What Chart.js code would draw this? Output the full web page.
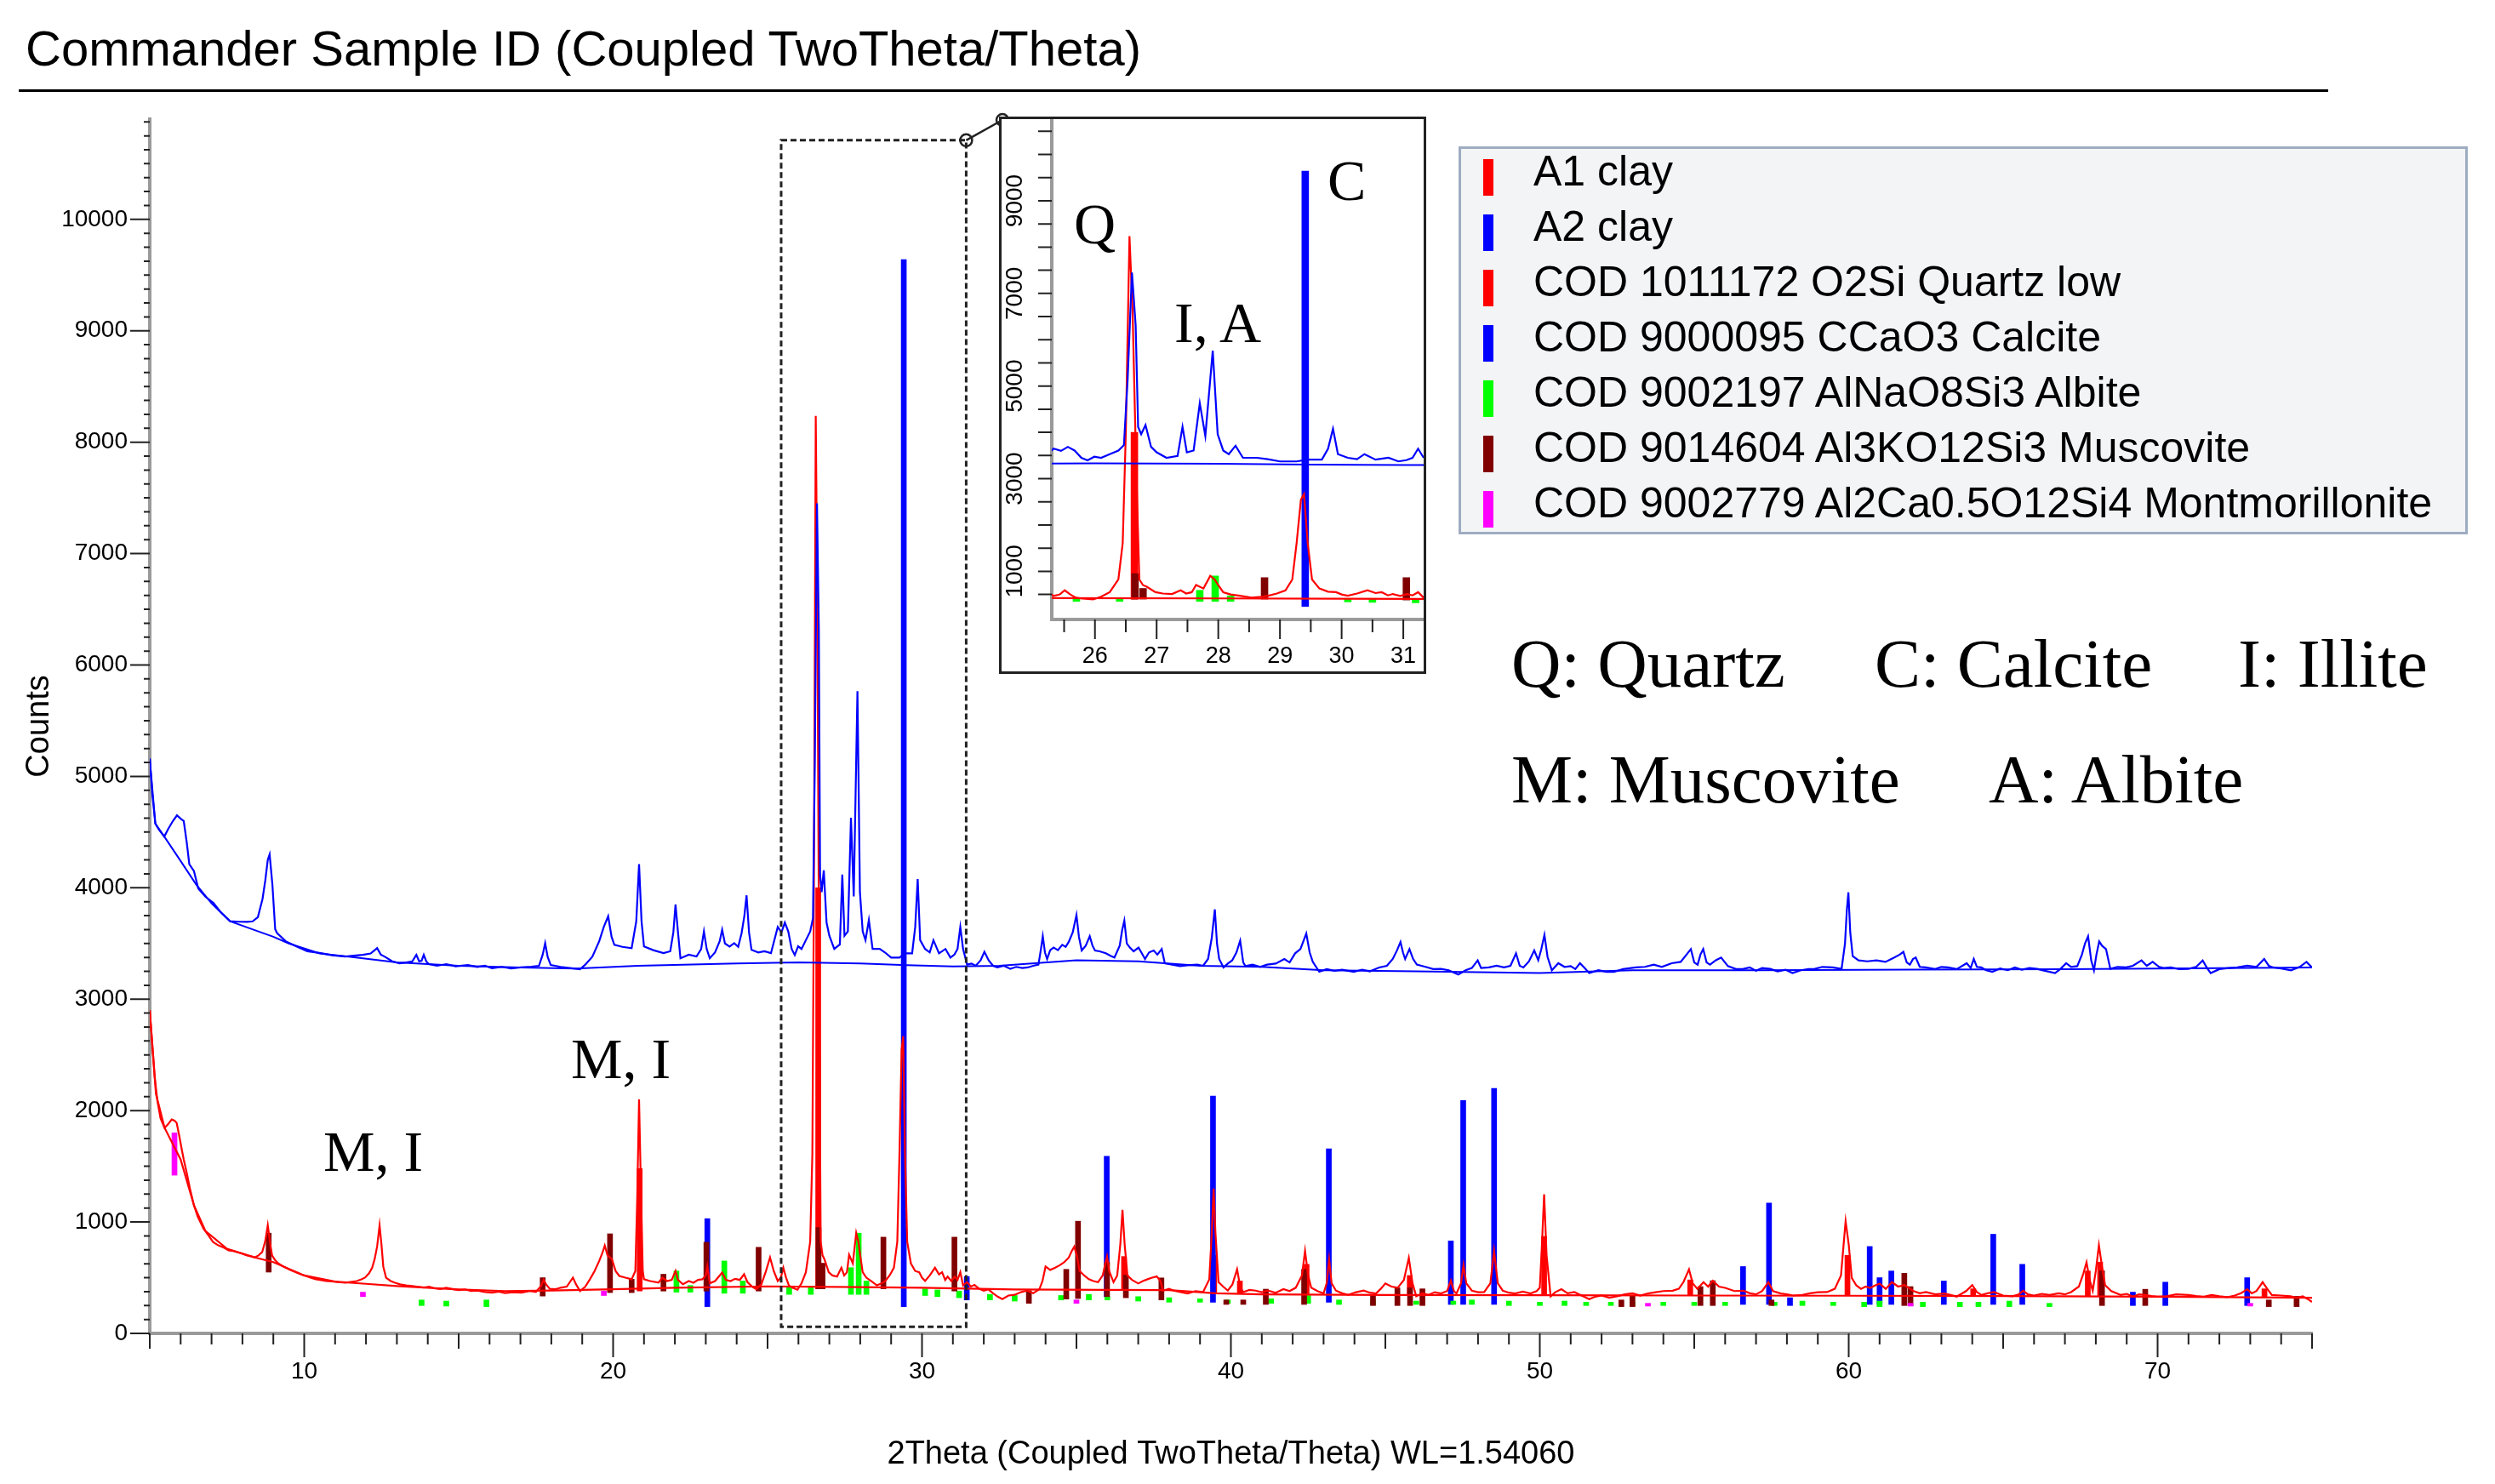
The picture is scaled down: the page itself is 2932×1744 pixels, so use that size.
<!DOCTYPE html>
<html>
<head>
<meta charset="utf-8">
<title>Commander Sample ID (Coupled TwoTheta/Theta)</title>
<script src="https://cdn.jsdelivr.net/npm/chart.js@4.4.1/dist/chart.umd.min.js"></script>
<style>
  html, body { margin: 0; padding: 0; background: #fff; }
  #page { position: relative; width: 2932px; height: 1744px; overflow: hidden; font-family: "Liberation Sans", Arial, sans-serif; color: #000; }
  #mainChart { position: absolute; left: 0; top: 0; }
  .title { position: absolute; left: 30px; top: 28px; font-size: 58px; line-height: 58px; white-space: nowrap; }
  .rule { position: absolute; left: 22px; top: 105px; width: 2714px; height: 3px; background: #000; }
  .inset { position: absolute; left: 1174px; top: 137px; width: 502px; height: 655px; border: 3px solid #222; box-sizing: border-box; background: #fff; }
  .inset canvas { position: absolute; left: 0; top: 0; }
  .legend { position: absolute; left: 1714px; top: 172px; width: 1186px; height: 456px; box-sizing: border-box; background: #f3f4f6; border: 3px solid #9eacc2; }
  .mark { position: absolute; left: 26px; width: 12px; height: 43px; }
  .ltext { position: absolute; left: 85px; font-size: 50px; line-height: 50px; white-space: nowrap; }
  .note { position: absolute; font-family: "Liberation Serif", "Times New Roman", serif; white-space: nowrap; line-height: 1; }
  .big { font-size: 81px; }
  .small { font-size: 68px; }
</style>
</head>
<body>
<div id="page">
  <canvas id="mainChart" width="2932" height="1744"></canvas>
  <div class="title">Commander Sample ID (Coupled TwoTheta/Theta)</div>
  <div class="rule"></div>

  <div class="inset"><canvas id="insetChart" width="496" height="649"></canvas></div>

  <div class="legend">
    <div class="mark" style="top:12px;background:#ff0000"></div><div class="ltext" style="top:1px">A1 clay</div>
    <div class="mark" style="top:77px;background:#0000ff"></div><div class="ltext" style="top:66px">A2 clay</div>
    <div class="mark" style="top:142px;background:#ff0000"></div><div class="ltext" style="top:131px">COD 1011172 O2Si Quartz low</div>
    <div class="mark" style="top:207px;background:#0000ff"></div><div class="ltext" style="top:196px">COD 9000095 CCaO3 Calcite</div>
    <div class="mark" style="top:272px;background:#00ff00"></div><div class="ltext" style="top:261px">COD 9002197 AlNaO8Si3 Albite</div>
    <div class="mark" style="top:337px;background:#800000"></div><div class="ltext" style="top:326px">COD 9014604 Al3KO12Si3 Muscovite</div>
    <div class="mark" style="top:402px;background:#ff00ff"></div><div class="ltext" style="top:391px">COD 9002779 Al2Ca0.5O12Si4 Montmorillonite</div>
  </div>

  <div class="note big" style="left:1776px;top:740px">Q: Quartz</div>
  <div class="note big" style="left:2203px;top:740px">C: Calcite</div>
  <div class="note big" style="left:2630px;top:740px">I: Illite</div>
  <div class="note big" style="left:1776px;top:876px">M: Muscovite</div>
  <div class="note big" style="left:2337px;top:876px">A: Albite</div>
  <div class="note small" style="left:380px;top:1319px">M, I</div>
  <div class="note small" style="left:671px;top:1210px">M, I</div>
  <div class="note small" style="left:1262px;top:229px">Q</div>
  <div class="note small" style="left:1380px;top:345px">I, A</div>
  <div class="note small" style="left:1560px;top:178px">C</div>
</div>

<script>
// measured scans, [2theta, counts]
const a1Clay = [
  [5.00,2900],[5.08,2600],[5.16,2300],[5.25,2080],[5.35,1930],[5.48,1845],[5.6,1880],[5.71,1920],[5.8,1910],[5.87,1890],
  [5.95,1780],[6.03,1660],[6.1,1560],[6.19,1450],[6.3,1300],[6.43,1150],[6.55,1050],[6.74,940],[6.9,880],[7.05,820],
  [7.22,790],[7.4,770],[7.55,745],[7.7,740],[7.85,728],[8.0,715],[8.15,700],[8.3,690],[8.4,682],[8.52,700],
  [8.64,730],[8.74,830],[8.82,970],[8.9,800],[8.96,700],[9.05,660],[9.15,630],[9.28,607],[9.4,590],[9.55,570],
  [9.75,547],[9.9,530],[10.05,515],[10.2,500],[10.38,486],[10.55,478],[10.7,470],[10.9,466],[11.1,460],[11.33,456],
  [11.5,462],[11.7,470],[11.85,485],[11.97,501],[12.1,540],[12.2,590],[12.28,667],[12.36,780],[12.44,970],[12.5,800],
  [12.56,600],[12.65,500],[12.8,470],[12.92,456],[13.1,440],[13.3,430],[13.5,425],[13.7,418],[13.87,411],[14.05,420],
  [14.2,405],[14.4,398],[14.6,410],[14.82,396],[15.0,388],[15.2,395],[15.4,380],[15.6,385],[15.85,372],[16.08,366],
  [16.3,375],[16.5,362],[16.75,370],[17.03,366],[17.3,380],[17.5,372],[17.67,426],[17.75,480],[17.83,440],[17.95,400],
  [18.14,396],[18.3,410],[18.5,420],[18.7,501],[18.8,440],[18.93,380],[19.1,420],[19.25,486],[19.4,560],[19.55,650],
  [19.65,720],[19.73,788],[19.82,700],[19.96,667],[20.08,560],[20.2,516],[20.4,500],[20.6,486],[20.72,560],[20.78,1200],
  [20.84,2100],[20.9,1300],[20.96,560],[21.0,486],[21.2,470],[21.47,456],[21.6,500],[21.75,470],[21.9,480],[22.02,561],
  [22.1,480],[22.26,441],[22.45,470],[22.6,455],[22.75,480],[22.89,486],[23.0,520],[23.05,600],[23.13,450],[23.3,470],
  [23.53,546],[23.65,480],[23.8,470],[23.95,490],[24.1,480],[24.24,531],[24.35,460],[24.5,420],[24.64,396],[24.8,440],
  [24.95,560],[25.08,682],[25.2,560],[25.33,470],[25.43,500],[25.51,589],[25.6,500],[25.69,431],[25.8,410],[25.97,392],
  [26.1,450],[26.24,549],[26.38,824],[26.45,1608],[26.5,3961],[26.56,8236],[26.61,6628],[26.67,3177],[26.72,824],[26.78,700],
  [26.84,667],[26.98,549],[27.1,520],[27.25,510],[27.39,589],[27.48,520],[27.57,549],[27.64,706],[27.76,628],[27.87,902],
  [27.94,824],[28.0,700],[28.08,549],[28.2,500],[28.35,471],[28.54,431],[28.7,450],[28.81,471],[28.95,520],[29.09,589],
  [29.2,824],[29.27,1608],[29.34,2549],[29.39,2667],[29.45,1608],[29.52,824],[29.64,628],[29.78,560],[29.91,549],[30.0,500],
  [30.1,471],[30.25,520],[30.42,589],[30.55,530],[30.65,549],[30.75,480],[30.83,510],[30.95,470],[31.06,510],[31.15,480],
  [31.24,549],[31.33,430],[31.46,460],[31.58,420],[31.7,435],[31.85,400],[32.0,384],[32.15,395],[32.3,360],[32.45,330],
  [32.6,308],[32.8,340],[33.0,346],[33.2,370],[33.4,384],[33.6,360],[33.8,397],[33.9,470],[34.0,600],[34.15,570],
  [34.3,588],[34.45,610],[34.6,638],[34.75,680],[34.85,740],[34.93,778],[35.02,690],[35.1,562],[35.25,520],[35.4,486],
  [35.55,470],[35.7,460],[35.85,520],[35.93,620],[35.99,689],[36.06,560],[36.2,460],[36.32,520],[36.42,800],[36.49,1109],
  [36.56,800],[36.65,520],[36.8,480],[37.0,448],[37.15,470],[37.3,486],[37.45,500],[37.6,511],[37.72,470],[37.8,384],
  [38.0,400],[38.15,384],[38.4,370],[38.6,358],[38.85,380],[39.1,371],[39.3,486],[39.38,900],[39.44,1300],[39.5,900],
  [39.6,460],[39.75,420],[39.9,384],[40.05,440],[40.2,575],[40.3,420],[40.4,371],[40.6,390],[40.8,384],[41.0,370],
  [41.2,384],[41.45,365],[41.7,397],[41.9,380],[42.1,410],[42.3,520],[42.4,740],[42.5,520],[42.6,410],[42.8,380],
  [43.0,358],[43.1,450],[43.18,664],[43.26,450],[43.4,384],[43.6,360],[43.8,346],[44.05,370],[44.3,384],[44.5,365],
  [44.7,358],[44.85,400],[45.0,448],[45.2,420],[45.4,410],[45.6,480],[45.76,677],[45.88,450],[46.0,333],[46.2,360],
  [46.4,346],[46.6,370],[46.8,358],[47.0,380],[47.12,473],[47.22,380],[47.3,358],[47.45,450],[47.53,613],[47.62,450],
  [47.8,384],[48.0,370],[48.2,371],[48.4,450],[48.52,740],[48.64,450],[48.8,384],[49.0,365],[49.2,358],[49.45,375],
  [49.7,358],[49.9,380],[50.0,410],[50.07,800],[50.14,1249],[50.22,700],[50.35,333],[50.5,370],[50.7,397],[50.9,360],
  [51.12,371],[51.35,340],[51.6,307],[51.8,330],[52.0,340],[52.25,320],[52.5,333],[52.75,350],[53.0,360],[53.25,340],
  [53.5,358],[53.75,370],[54.0,380],[54.3,383],[54.5,400],[54.65,460],[54.83,574],[54.95,450],[55.1,400],[55.3,460],
  [55.45,420],[55.6,473],[55.8,420],[56.0,409],[56.3,380],[56.6,383],[56.8,360],[57.0,350],[57.2,380],[57.4,460],
  [57.55,380],[57.8,358],[58.0,350],[58.2,340],[58.5,345],[58.75,360],[59.0,370],[59.3,371],[59.55,400],[59.75,520],
  [59.9,1007],[60.0,800],[60.1,498],[60.25,430],[60.4,400],[60.55,420],[60.7,409],[60.85,430],[61.0,447],[61.2,400],
  [61.4,460],[61.6,420],[61.8,434],[62.1,380],[62.3,360],[62.5,371],[62.8,350],[63.1,358],[63.3,345],[63.5,330],
  [63.8,380],[64.0,434],[64.15,370],[64.3,345],[64.5,360],[64.7,371],[65.0,340],[65.3,333],[65.5,350],[65.65,383],
  [65.8,350],[66.0,340],[66.25,355],[66.5,345],[66.8,360],[67.0,350],[67.2,371],[67.45,420],[67.6,540],[67.7,638],
  [67.8,480],[67.9,383],[68.0,560],[68.1,791],[68.2,600],[68.3,434],[68.5,380],[68.8,345],[69.0,355],[69.2,330],
  [69.4,350],[69.6,345],[69.8,335],[70.0,330],[70.3,333],[70.6,350],[71.0,345],[71.25,335],[71.5,330],[71.75,345],
  [72.0,333],[72.25,325],[72.5,340],[72.7,360],[72.9,396],[73.05,360],[73.2,380],[73.3,420],[73.4,460],[73.55,400],
  [73.7,345],[74.0,340],[74.3,333],[74.5,320],[74.7,333],[74.85,310],[75.0,282]
];

const a1Background = [
  [5.0,2900],[5.2,2150],[5.48,1845],[6.0,1560],[6.43,1150],[6.8,920],[7.5,760],[8.4,682],[9.0,640],[10.0,520],
  [11.0,465],[12.0,445],[13.0,425],[14.0,410],[15.0,395],[16.5,380],[18.0,385],[20.0,396],[22.0,410],[25.0,422],
  [28.0,415],[30.0,409],[33.0,395],[36.0,390],[38.0,388],[39.5,360],[41.0,350],[45.0,345],[50.0,343],[55.0,340],
  [60.0,338],[65.0,335],[70.0,330],[75.0,320]
];

const a2Clay = [
  [5.0,5160],[5.08,4850],[5.18,4577],[5.3,4520],[5.47,4460],[5.6,4530],[5.75,4600],[5.88,4650],[6.0,4620],[6.1,4600],
  [6.2,4400],[6.28,4212],[6.43,4150],[6.57,3993],[6.8,3920],[7.06,3865],[7.3,3780],[7.6,3700],[7.9,3695],[8.15,3694],
  [8.33,3699],[8.5,3737],[8.65,3900],[8.74,4066],[8.82,4250],[8.88,4300],[8.97,4029],[9.06,3628],[9.12,3594],[9.4,3520],
  [9.75,3473],[10.1,3430],[10.54,3413],[10.9,3395],[11.33,3383],[11.6,3390],[11.9,3398],[12.15,3410],[12.36,3458],[12.48,3400],
  [12.6,3383],[12.85,3340],[13.08,3322],[13.3,3330],[13.5,3340],[13.63,3398],[13.72,3340],[13.8,3345],[13.87,3398],[13.95,3340],
  [14.03,3316],[14.3,3300],[14.6,3315],[14.9,3295],[15.3,3307],[15.6,3290],[15.85,3300],[16.08,3277],[16.4,3290],[16.7,3275],
  [17.0,3285],[17.35,3292],[17.6,3300],[17.72,3400],[17.8,3503],[17.88,3380],[17.98,3307],[18.3,3290],[18.6,3280],[18.93,3268],
  [19.1,3310],[19.33,3383],[19.55,3520],[19.7,3650],[19.84,3745],[19.95,3560],[20.04,3488],[20.3,3470],[20.6,3458],[20.75,3700],
  [20.84,4212],[20.92,3700],[21.0,3473],[21.3,3440],[21.63,3413],[21.85,3430],[21.95,3600],[22.02,3850],[22.1,3600],[22.18,3367],
  [22.45,3400],[22.7,3383],[22.85,3450],[22.94,3609],[23.03,3450],[23.13,3367],[23.3,3420],[23.45,3520],[23.53,3624],[23.62,3500],
  [23.77,3473],[23.92,3503],[24.05,3470],[24.16,3594],[24.25,3750],[24.32,3932],[24.4,3600],[24.48,3443],[24.7,3420],[24.9,3430],
  [25.11,3413],[25.33,3648],[25.45,3600],[25.56,3687],[25.67,3608],[25.78,3451],[25.88,3396],[25.99,3475],[26.1,3451],[26.24,3530],
  [26.38,3608],[26.47,3726],[26.53,5138],[26.6,7451],[26.66,6314],[26.7,4118],[26.75,3961],[26.82,4157],[26.91,3687],[27.0,3569],
  [27.16,3451],[27.34,3491],[27.42,4118],[27.49,3569],[27.6,3608],[27.7,4628],[27.79,3922],[27.91,5765],[27.99,3961],[28.08,3608],
  [28.17,3530],[28.28,3710],[28.4,3451],[28.63,3451],[28.8,3420],[29.0,3373],[29.27,3373],[29.45,3412],[29.68,3412],[29.78,3648],
  [29.86,4079],[29.94,3530],[30.1,3451],[30.25,3420],[30.37,3530],[30.55,3412],[30.76,3451],[30.92,3373],[31.05,3400],[31.15,3451],
  [31.24,3648],[31.33,3451],[31.46,3310],[31.6,3320],[31.74,3300],[31.9,3350],[32.02,3425],[32.16,3348],[32.3,3300],[32.44,3285],
  [32.65,3300],[32.86,3272],[33.05,3290],[33.25,3280],[33.42,3285],[33.6,3300],[33.77,3310],[33.85,3450],[33.91,3565],[33.98,3420],
  [34.05,3361],[34.15,3440],[34.26,3463],[34.4,3440],[34.54,3488],[34.65,3470],[34.75,3514],[34.88,3600],[35.0,3755],[35.08,3560],
  [35.17,3437],[35.3,3480],[35.43,3565],[35.52,3480],[35.6,3437],[35.75,3430],[35.95,3412],[36.1,3390],[36.23,3374],[36.4,3480],
  [36.48,3620],[36.55,3705],[36.63,3500],[36.73,3463],[36.85,3430],[37.01,3463],[37.1,3420],[37.22,3361],[37.35,3420],[37.5,3437],
  [37.62,3400],[37.76,3450],[37.86,3323],[38.1,3310],[38.35,3297],[38.6,3305],[38.91,3310],[39.1,3300],[39.26,3361],[39.38,3550],
  [39.48,3806],[39.55,3500],[39.62,3361],[39.76,3285],[39.9,3320],[40.04,3348],[40.18,3420],[40.3,3526],[40.4,3330],[40.47,3297],
  [40.7,3310],[40.95,3290],[41.17,3310],[41.45,3320],[41.73,3361],[41.9,3330],[42.08,3412],[42.25,3450],[42.44,3590],[42.55,3420],
  [42.65,3335],[42.86,3246],[43.1,3270],[43.35,3255],[43.6,3265],[43.98,3246],[44.25,3265],[44.5,3250],[44.8,3285],[45.05,3300],
  [45.24,3361],[45.38,3440],[45.49,3514],[45.57,3420],[45.64,3361],[45.78,3450],[45.9,3360],[46.02,3310],[46.3,3290],[46.55,3270],
  [46.8,3272],[47.05,3260],[47.36,3221],[47.6,3260],[47.8,3280],[47.99,3348],[48.1,3280],[48.35,3285],[48.6,3300],[48.84,3285],
  [49.05,3300],[49.23,3412],[49.35,3300],[49.47,3285],[49.65,3340],[49.82,3437],[49.95,3350],[50.05,3450],[50.15,3577],[50.25,3380],
  [50.39,3259],[50.6,3323],[50.8,3290],[51.0,3297],[51.15,3270],[51.3,3323],[51.45,3280],[51.6,3234],[51.9,3260],[52.15,3245],
  [52.4,3246],[52.7,3270],[52.95,3280],[53.11,3285],[53.4,3290],[53.69,3310],[53.95,3290],[54.27,3323],[54.56,3335],[54.75,3400],
  [54.89,3450],[55.0,3330],[55.11,3310],[55.2,3400],[55.29,3450],[55.4,3330],[55.51,3310],[55.7,3350],[55.87,3374],[56.09,3297],
  [56.35,3270],[56.59,3272],[56.8,3285],[57.0,3255],[57.2,3280],[57.46,3272],[57.7,3250],[57.95,3265],[58.18,3234],[58.45,3260],
  [58.7,3270],[58.9,3272],[59.15,3290],[59.48,3285],[59.77,3272],[59.88,3500],[59.94,3800],[59.99,3959],[60.05,3600],[60.13,3386],
  [60.32,3348],[60.6,3340],[60.9,3348],[61.19,3335],[61.45,3370],[61.65,3400],[61.77,3425],[61.88,3330],[61.98,3310],[62.08,3360],
  [62.17,3374],[62.3,3290],[62.49,3285],[62.8,3270],[63.0,3290],[63.21,3285],[63.5,3270],[63.82,3323],[63.95,3280],[64.05,3361],
  [64.15,3290],[64.29,3285],[64.45,3260],[64.65,3246],[64.9,3275],[65.15,3260],[65.38,3285],[65.6,3265],[65.85,3280],[66.1,3272],
  [66.35,3255],[66.68,3234],[66.85,3270],[67.04,3323],[67.2,3290],[67.4,3297],[67.55,3400],[67.65,3500],[67.75,3565],[67.85,3350],
  [67.94,3259],[68.02,3400],[68.11,3519],[68.2,3480],[68.33,3450],[68.47,3272],[68.7,3290],[68.98,3285],[69.2,3300],[69.48,3348],
  [69.65,3300],[69.84,3335],[70.05,3290],[70.2,3280],[70.42,3285],[70.7,3270],[71.0,3272],[71.25,3290],[71.46,3348],[71.6,3280],
  [71.72,3234],[72.0,3270],[72.3,3280],[72.58,3285],[72.9,3300],[73.2,3290],[73.45,3361],[73.6,3300],[73.74,3285],[74.0,3275],
  [74.32,3259],[74.6,3290],[74.82,3335],[75.0,3285]
];

const a2Background = [
  [5.0,5160],[5.18,4577],[5.47,4460],[6.0,4240],[6.5,4030],[7.0,3860],[7.6,3700],[8.4,3620],[9.0,3560],[9.5,3500],
  [10.5,3410],[11.5,3380],[13.0,3330],[15.0,3300],[17.0,3285],[18.8,3275],[20.8,3300],[24.0,3320],[26.0,3330],[28.0,3320],
  [29.5,3305],[31.0,3295],[32.5,3300],[35.0,3350],[37.0,3340],[39.0,3300],[41.0,3290],[43.0,3260],[46.0,3250],[50.0,3235],
  [53.0,3260],[57.0,3260],[62.0,3265],[67.0,3270],[75.0,3285]
];

// reference patterns, [2theta, stick bottom, stick top]
const quartzSticks = [
  [20.86,380,1480],[26.64,400,4000],[36.54,390,690],[39.46,370,700],[40.29,360,470],[42.45,355,620],[45.79,345,520],
  [50.14,345,870],[54.87,340,480],[59.96,338,700],[64.03,335,400],[67.74,332,560],[68.14,332,640],[73.46,325,400]
];
const calciteSticks = [
  [23.05,240,1030],[29.41,240,9640],[31.45,300,510],[35.98,330,1590],[39.42,280,2130],[43.17,280,1656],[47.12,260,830],
  [47.52,260,2090],[48.52,260,2200],[56.58,260,600],[57.42,260,1170],[58.1,250,320],[60.68,260,780],[61.0,260,500],
  [61.38,260,560],[63.08,260,470],[64.68,260,890],[65.62,260,620],[69.2,250,370],[70.25,250,460],[72.9,250,500]
];
const albiteSticks = [
  [13.8,250,300],[14.6,245,290],[15.9,240,300],[22.05,370,560],[22.5,370,430],[23.6,360,650],[24.2,360,470],[25.7,350,420],
  [26.4,350,420],[27.7,350,590],[27.95,350,900],[28.2,350,470],[30.1,340,400],[30.5,330,390],[31.2,320,380],[32.2,300,350],
  [33.0,290,340],[34.5,300,340],[35.4,300,350],[36.0,300,330],[37.0,290,330],[38.0,280,320],[39.0,280,310],[39.9,270,300],
  [41.3,270,310],[42.5,270,340],[43.5,260,300],[44.6,260,300],[46.0,260,290],[47.2,260,290],[47.8,260,300],[49.0,250,290],
  [50.0,250,280],[50.8,250,290],[51.5,250,280],[52.3,250,280],[53.0,250,280],[54.0,250,280],[55.0,250,280],[56.0,250,280],
  [57.6,250,280],[58.5,250,290],[59.5,250,280],[60.5,240,280],[61.0,240,290],[62.4,240,280],[63.6,240,280],[64.2,240,280],
  [65.2,240,290],[66.5,240,270]
];
const muscoviteSticks = [
  [8.85,550,900],[17.72,335,500],[19.9,366,894],[20.6,366,486],[21.63,380,531],[23.02,380,818],[24.71,380,773],
  [26.65,400,950],[26.78,400,630],[28.75,400,864],[31.05,380,864],[33.46,270,384],[34.67,308,575],[35.05,313,1007],
  [35.99,330,638],[36.6,320,524],[37.75,300,498],[39.85,260,300],[40.4,260,300],[41.13,260,397],[42.37,260,575],
  [44.6,250,340],[45.39,250,409],[45.8,250,409],[46.2,250,400],[52.64,240,300],[53.0,240,340],[55.2,250,420],
  [55.6,250,473],[57.5,250,300],[61.8,250,540],[62.0,250,420],[68.2,250,562],[69.6,250,396],[73.6,240,300],[74.5,240,333]
];
const montmorilloniteSticks = [
  [5.8,1420,1800],[11.9,330,370],[19.7,340,380],[35.0,270,300],[53.5,245,270],[62.0,245,270],[73.0,245,270]
];

// axes
const xTickLabels = [10, 20, 30, 40, 50, 60, 70];
const yTickLabels = [0, 1000, 2000, 3000, 4000, 5000, 6000, 7000, 8000, 9000, 10000];
const insetXTickLabels = [26, 27, 28, 29, 30, 31];
const insetYTickLabels = [1000, 3000, 5000, 7000, 9000];
const zoomWindow = { from: 25.44, to: 31.43, low: 60, high: 10710 };

Chart.defaults.font.family = '"Liberation Sans", Arial, sans-serif';
Chart.defaults.color = '#000';

const toPoints = rows => rows.map(r => ({ x: r[0], y: r[1] }));
const toSticks = rows => rows.map(r => ({ x: r[0], y: [r[1], r[2]] }));

function buildDatasets(barWidth) {
  const line = (label, rows, color, width, order) => ({
    type: 'line', label, data: toPoints(rows), borderColor: color, borderWidth: width,
    pointRadius: 0, tension: 0, fill: false, order
  });
  const sticks = (label, rows, color, order) => ({
    type: 'bar', label, data: toSticks(rows), backgroundColor: color, borderWidth: 0,
    barThickness: barWidth, grouped: false, order
  });
  return [
    line('A2 clay', a2Clay, '#0000ff', 2.2, 0),
    line('A2 clay background', a2Background, '#0000ff', 2, 1),
    line('A1 clay', a1Clay, '#ff0000', 2.2, 2),
    line('A1 clay background', a1Background, '#ff0000', 2.2, 3),
    sticks('COD 9002779 Al2Ca0.5O12Si4 Montmorillonite', montmorilloniteSticks, '#ff00ff', 4),
    sticks('COD 9014604 Al3KO12Si3 Muscovite', muscoviteSticks, '#800000', 5),
    sticks('COD 9002197 AlNaO8Si3 Albite', albiteSticks, '#00ff00', 6),
    sticks('COD 9000095 CCaO3 Calcite', calciteSticks, '#0000ff', 7),
    sticks('COD 1011172 O2Si Quartz low', quartzSticks, '#ff0000', 8)
  ];
}

// keep the plot area exactly where the axis sizes put it
const fixWidth = w => s => { s.width = w; s.paddingTop = 0; s.paddingBottom = 0; };
const fixHeight = h => s => { s.height = h; s.paddingLeft = 0; s.paddingRight = 0; };

// draws tick marks of several lengths along both axes
const axisTicks = {
  id: 'axisTicks',
  afterDraw(chart, args, o) {
    const { ctx, chartArea: a, scales: { x, y } } = chart;
    const isMult = (v, m) => Math.abs(v / m - Math.round(v / m)) < 1e-6;
    ctx.save();
    ctx.strokeStyle = o.color;
    ctx.lineWidth = o.width;
    ctx.beginPath();
    for (let i = Math.ceil(x.min / o.xStep - 1e-9); i * o.xStep <= x.max + 1e-9; i++) {
      const v = i * o.xStep;
      const len = isMult(v, o.xMajor) ? o.xLens[2] : isMult(v, o.xMid) ? o.xLens[1] : o.xLens[0];
      const px = x.getPixelForValue(v);
      ctx.moveTo(px, a.bottom);
      ctx.lineTo(px, a.bottom + len);
    }
    for (let i = Math.ceil(Math.max(y.min, o.yStart) / o.yStep - 1e-9); i * o.yStep <= y.max + 1e-9; i++) {
      const v = i * o.yStep;
      const len = isMult(v, o.yMajor) ? o.yLens[1] : o.yLens[0];
      const py = y.getPixelForValue(v);
      ctx.moveTo(a.left - len, py);
      ctx.lineTo(a.left, py);
    }
    ctx.stroke();
    ctx.restore();
  }
};

// dashed window around the zoomed range and the link to the inset
const zoomFrame = {
  id: 'zoomFrame',
  afterDatasetsDraw(chart, args, o) {
    const { ctx, scales: { x, y } } = chart;
    const l = x.getPixelForValue(zoomWindow.from), r = x.getPixelForValue(zoomWindow.to);
    const t = y.getPixelForValue(zoomWindow.high), b = y.getPixelForValue(zoomWindow.low);
    ctx.save();
    ctx.strokeStyle = '#222';
    ctx.lineWidth = 3;
    ctx.setLineDash([7, 4]);
    ctx.strokeRect(l, t, r - l, b - t);
    ctx.setLineDash([]);
    ctx.lineWidth = 2.5;
    ctx.beginPath();
    ctx.moveTo(r, t);
    ctx.lineTo(o.toX, o.toY);
    ctx.stroke();
    [[r, t], [o.toX, o.toY]].forEach(([cx, cy]) => {
      ctx.beginPath();
      ctx.arc(cx, cy, 7, 0, Math.PI * 2);
      ctx.stroke();
    });
    ctx.restore();
  }
};

new Chart(document.getElementById('mainChart'), {
  type: 'line',
  data: { datasets: buildDatasets(6) },
  options: {
    responsive: false,
    animation: false,
    devicePixelRatio: 1,
    events: [],
    layout: { padding: { left: 0, right: 215, top: 140, bottom: 0 } },
    plugins: {
      legend: { display: false },
      tooltip: { enabled: false },
      axisTicks: { color: '#222', width: 2, xStep: 1, xMid: 5, xMajor: 10, xLens: [13, 18, 28],
                   yStep: 125, yStart: 0, yMajor: 1000, yLens: [7, 23] },
      zoomFrame: { toX: 1178, toY: 141 }
    },
    scales: {
      x: {
        type: 'linear', min: 5, max: 75, offset: false,
        afterBuildTicks: s => { s.ticks = xTickLabels.map(v => ({ value: v })); },
        afterFit: fixHeight(177),
        grid: { drawOnChartArea: false, drawTicks: true, tickLength: 28, tickColor: 'rgba(0,0,0,0)' },
        border: { display: true, color: '#9a9a9a', width: 4 },
        ticks: { font: { size: 28 }, padding: 0, maxRotation: 0, autoSkip: false, callback: v => String(v) },
        title: { display: true, text: '2Theta (Coupled TwoTheta/Theta) WL=1.54060', font: { size: 38 },
                 padding: { top: 0, bottom: 12 } }
      },
      y: {
        type: 'linear', min: 0, max: 10900,
        afterBuildTicks: s => { s.ticks = yTickLabels.map(v => ({ value: v })); },
        afterFit: fixWidth(176),
        grid: { drawOnChartArea: false, drawTicks: true, tickLength: 23, tickColor: 'rgba(0,0,0,0)' },
        border: { display: true, color: '#9a9a9a', width: 4 },
        ticks: { font: { size: 28 }, padding: 3, autoSkip: false, callback: v => String(v) },
        title: { display: true, text: 'Counts', font: { size: 38 }, padding: { top: 24, bottom: 0 } }
      }
    }
  },
  plugins: [axisTicks, zoomFrame]
});

new Chart(document.getElementById('insetChart'), {
  type: 'line',
  data: { datasets: buildDatasets(8) },
  options: {
    responsive: false,
    animation: false,
    devicePixelRatio: 1,
    events: [],
    layout: { padding: { left: 0, right: 0, top: 1, bottom: 0 } },
    plugins: {
      legend: { display: false },
      tooltip: { enabled: false },
      axisTicks: { color: '#222', width: 2, xStep: 0.5, xMid: 1, xMajor: 1, xLens: [15, 23, 23],
                   yStep: 500, yStart: 500, yMajor: 500, yLens: [16, 16] }
    },
    scales: {
      x: {
        type: 'linear', min: 25.3, max: 31.33, offset: false,
        afterBuildTicks: s => { s.ticks = insetXTickLabels.map(v => ({ value: v })); },
        afterFit: fixHeight(61),
        grid: { drawOnChartArea: false, drawTicks: true, tickLength: 23, tickColor: 'rgba(0,0,0,0)' },
        border: { display: true, color: '#9a9a9a', width: 4 },
        ticks: { font: { size: 27 }, padding: 4, maxRotation: 0, autoSkip: false, callback: v => String(v) }
      },
      y: {
        type: 'linear', min: -40, max: 10745,
        afterBuildTicks: s => { s.ticks = insetYTickLabels.map(v => ({ value: v })); },
        afterFit: fixWidth(59),
        grid: { drawOnChartArea: false, drawTicks: false },
        border: { display: true, color: '#9a9a9a', width: 4 },
        ticks: { font: { size: 28 }, padding: 12, minRotation: 90, maxRotation: 90, crossAlign: 'center',
                 autoSkip: false, callback: v => String(v) }
      }
    }
  },
  plugins: [axisTicks]
});
</script>
</body>
</html>
